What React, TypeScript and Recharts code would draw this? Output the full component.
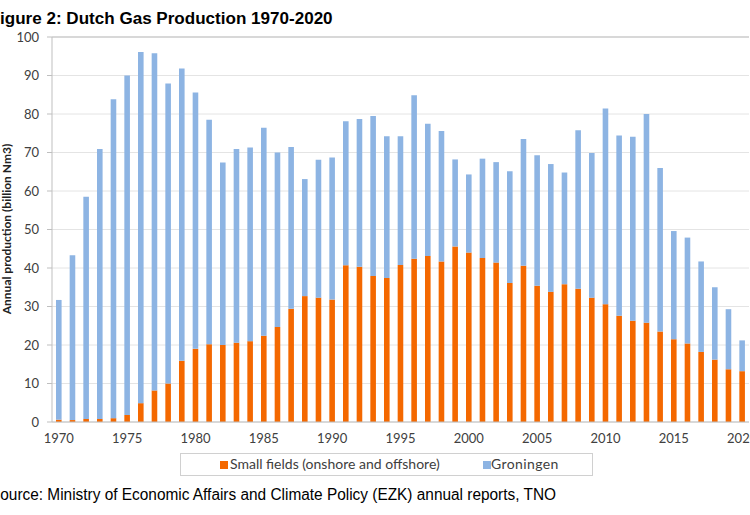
import { Bar, BarChart, CartesianGrid, Legend, ReferenceLine, XAxis, YAxis } from "recharts";

const years = [
  "1970", "1971", "1972", "1973", "1974", "1975", "1976", "1977", "1978", "1979",
  "1980", "1981", "1982", "1983", "1984", "1985", "1986", "1987", "1988", "1989",
  "1990", "1991", "1992", "1993", "1994", "1995", "1996", "1997", "1998", "1999",
  "2000", "2001", "2002", "2003", "2004", "2005", "2006", "2007", "2008", "2009",
  "2010", "2011", "2012", "2013", "2014", "2015", "2016", "2017", "2018", "2019", "2020",
];

// billion Nm3
const smallFields = [
  0.6, 0.5, 0.8, 0.8, 1.0, 1.8, 4.9, 8.2, 10.0, 15.9,
  19.0, 20.2, 20.0, 20.6, 21.0, 22.4, 24.7, 29.4, 32.7, 32.3,
  31.8, 40.7, 40.3, 37.9, 37.4, 40.8, 42.4, 43.1, 41.7, 45.6,
  44.0, 42.6, 41.4, 36.1, 40.6, 35.4, 33.8, 35.8, 34.6, 32.3,
  30.6, 27.6, 26.3, 25.8, 23.5, 21.5, 20.4, 18.2, 16.2, 13.7, 13.2,
];

const groningen = [
  31.1, 42.8, 57.7, 70.1, 82.8, 88.2, 91.2, 87.6, 77.9, 75.9,
  66.6, 58.3, 47.4, 50.3, 50.3, 54.0, 45.3, 42.0, 30.4, 35.8,
  36.9, 37.4, 38.4, 41.6, 36.8, 33.4, 42.5, 34.4, 33.9, 22.6,
  20.3, 25.8, 26.1, 29.0, 32.9, 33.9, 33.2, 29.0, 41.2, 37.6,
  50.8, 46.8, 47.8, 54.2, 42.5, 28.1, 27.5, 23.5, 18.8, 15.6, 8.0,
];

const yTicks = [0, 10, 20, 30, 40, 50, 60, 70, 80, 90, 100];

const data = years.map((year, i) => ({ year, small: smallFields[i], groningen: groningen[i] }));

const ORANGE = "#f46800";
const BLUE = "#8db4e3";
const AXIS = "#bfbfbf";
const FONT = "Lato, 'Open Sans', sans-serif";

function ChartLegend() {
  return (
    <div
      style={{
        position: "relative",
        boxSizing: "border-box",
        width: 413,
        height: 23,
        border: "1px solid #d0d0d0",
        background: "#fff",
        fontFamily: FONT,
        fontSize: 14,
        color: "#404040",
      }}
    >
      <span style={{ position: "absolute", left: 39, top: 7, width: 8, height: 8, background: ORANGE }} />
      <span style={{ position: "absolute", left: 49, top: 1, whiteSpace: "nowrap" }}>Small fields (onshore and offshore)</span>
      <span style={{ position: "absolute", left: 302, top: 7, width: 8, height: 8, background: BLUE }} />
      <span style={{ position: "absolute", left: 310, top: 1, whiteSpace: "nowrap", letterSpacing: 0.4 }}>Groningen</span>
    </div>
  );
}

export default function App() {
  return (
    <div style={{ position: "absolute", left: 0, top: 0, width: 750, height: 515, overflow: "hidden", background: "#fff" }}>
      <BarChart width={750} height={515} data={data} margin={{ top: 37, right: 1, left: 0, bottom: 63 }} barSize={5.6}>
        <CartesianGrid vertical={false} stroke="#e4e4e4" />
        <XAxis
          dataKey="year"
          interval={4}
          tickLine={false}
          tickSize={0}
          tickMargin={12}
          height={30}
          axisLine={{ stroke: AXIS }}
          tick={{ fill: "#404040", fontSize: 13, fontFamily: FONT }}
        />
        <YAxis
          domain={[0, 100]}
          ticks={yTicks}
          width={52}
          tickSize={5}
          tickMargin={8}
          tickLine={{ stroke: AXIS }}
          axisLine={{ stroke: AXIS }}
          tick={{ fill: "#404040", fontSize: 13, fontFamily: FONT }}
          label={{
            content: () => (
              <text
                x={11}
                y={229}
                transform="rotate(-90 11 229)"
                textAnchor="middle"
                fontFamily={FONT}
                fontWeight="bold"
                fontSize={12}
                fill="#222"
              >
                Annual production (billion Nm3)
              </text>
            ),
          }}
        />
        <YAxis yAxisId="frame" orientation="right" width={0} domain={[0, 100]} tick={false} tickLine={false} axisLine={{ stroke: AXIS }} />
        <ReferenceLine y={100} stroke={AXIS} />
        <Legend
          layout="horizontal"
          verticalAlign="middle"
          align="center"
          wrapperStyle={{ left: 180, top: 453, width: 413, height: 23 }}
          content={() => <ChartLegend />}
        />
        <Bar dataKey="small" name="Small fields (onshore and offshore)" stackId="gas" fill={ORANGE} isAnimationActive={false} />
        <Bar dataKey="groningen" name="Groningen" stackId="gas" fill={BLUE} isAnimationActive={false} />
      </BarChart>
      <svg width={750} height={515} style={{ position: "absolute", left: 0, top: 0, pointerEvents: "none" }}>
        <text
          x={-10.4}
          y={24}
          fontFamily="'Liberation Sans', Arial, sans-serif"
          fontWeight="bold"
          fontSize={16}
          textLength={343}
          lengthAdjust="spacingAndGlyphs"
          fill="#000"
        >
          Figure 2: Dutch Gas Production 1970-2020
        </text>
        <text
          x={-10}
          y={500}
          fontFamily="'Liberation Sans', Arial, sans-serif"
          fontSize={16}
          textLength={566}
          lengthAdjust="spacingAndGlyphs"
          fill="#000"
        >
          Source: Ministry of Economic Affairs and Climate Policy (EZK) annual reports, TNO
        </text>
      </svg>
    </div>
  );
}
